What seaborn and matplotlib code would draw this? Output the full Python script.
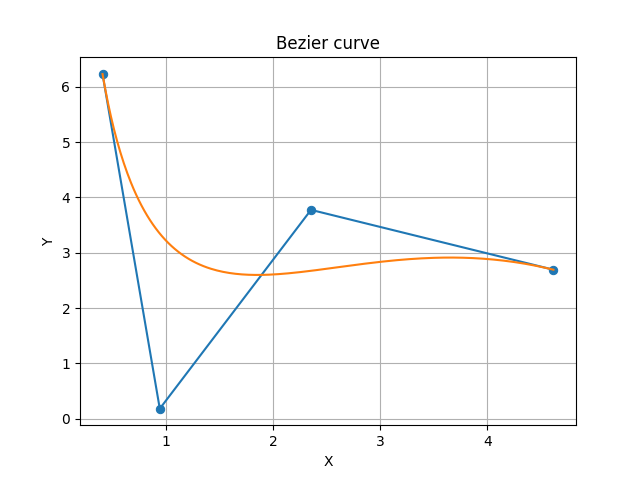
import numpy as np
import pandas as pd
import seaborn as sns
import matplotlib
matplotlib.use('Agg')
import matplotlib.pyplot as plt

# control points
ctrl_x = [0.41, 0.944, 2.355, 4.617]
ctrl_y = [6.23, 0.18, 3.775, 2.693]


def bezier(xs, ys, n=200):
    # cubic bezier through the four control points (Bernstein form)
    t = np.linspace(0, 1, n)
    p = np.array([xs, ys])
    b = ((1 - t) ** 3)[None] * p[:, [0]] + (3 * t * (1 - t) ** 2)[None] * p[:, [1]] \
        + (3 * t ** 2 * (1 - t))[None] * p[:, [2]] + (t ** 3)[None] * p[:, [3]]
    return b[0], b[1]


curve_x, curve_y = bezier(ctrl_x, ctrl_y)

fig, ax = plt.subplots(figsize=(6.4, 4.78), dpi=100)
sns.lineplot(x=ctrl_x, y=ctrl_y, sort=False, ax=ax, color='tab:blue', marker='o',
             markersize=6, markeredgecolor='tab:blue', linewidth=1.5)
sns.lineplot(x=curve_x, y=curve_y, sort=False, ax=ax, color='tab:orange', linewidth=1.5)
ax.set_title('Bezier curve')
ax.set_xlabel('X')
ax.set_ylabel('Y')
ax.grid(True)
fig.savefig('out.png')
